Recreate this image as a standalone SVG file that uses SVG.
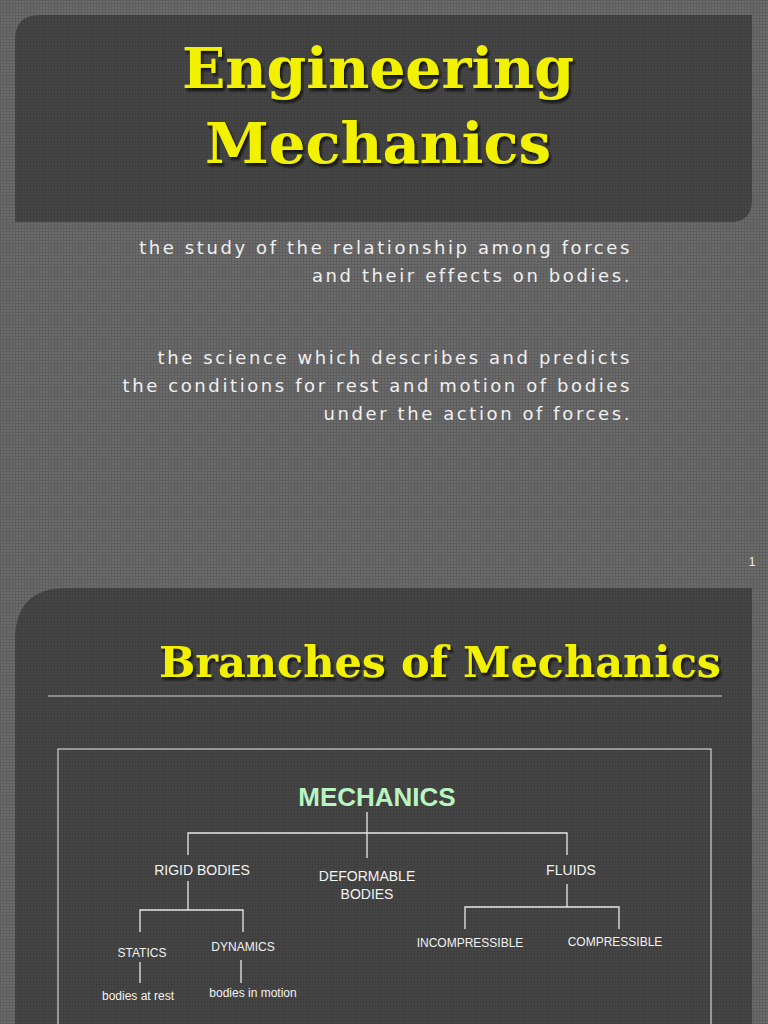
<svg xmlns="http://www.w3.org/2000/svg" width="768" height="1024" viewBox="0 0 768 1024">
<defs>
<pattern id="grid" width="3" height="3" patternUnits="userSpaceOnUse"><rect width="3" height="3" fill="#6c6c6c"/><rect width="1" height="3" fill="#5e5e5e"/><rect width="3" height="1" fill="#5e5e5e"/></pattern>
<pattern id="grid2" width="3" height="3" patternUnits="userSpaceOnUse"><rect width="3" height="3" fill="#464646"/><rect width="1" height="3" fill="#3f3f3f"/><rect width="3" height="1" fill="#3f3f3f"/></pattern>
<filter id="sh" x="-10%" y="-20%" width="120%" height="150%"><feDropShadow dx="2" dy="3" stdDeviation="1" flood-color="#111" flood-opacity="0.9"/></filter>
</defs>
<style>
.t{font-family:"DejaVu Serif",serif;font-weight:bold;fill:#f2f200;text-anchor:middle;filter:url(#sh)}
.b{font-family:"DejaVu Sans",sans-serif;font-size:18px;fill:#f0f0f0;text-anchor:end;letter-spacing:2.6px}
.n{font-family:"Liberation Sans",sans-serif;fill:#f2f2f2;text-anchor:middle}
.c{stroke:#e8e8e8;stroke-width:1.3;fill:none}
</style>
<rect width="768" height="1024" fill="url(#grid)"/>
<path d="M15 222 V40 Q15 15 40 15 H752 V200 Q752 222 730 222 Z" fill="url(#grid2)"/>
<text class="t" x="378" y="88" font-size="56" textLength="392" lengthAdjust="spacingAndGlyphs">Engineering</text>
<text class="t" x="378" y="163" font-size="56" textLength="346" lengthAdjust="spacingAndGlyphs">Mechanics</text>
<text class="b" x="632" y="254">the study of the relationship among forces</text>
<text class="b" x="632" y="282">and their effects on bodies.</text>
<text class="b" x="632" y="364">the science which describes and predicts</text>
<text class="b" x="632" y="392">the conditions for rest and motion of bodies</text>
<text class="b" x="632" y="420">under the action of forces.</text>
<text class="n" x="752" y="566" font-size="12">1</text>
<path d="M15 1024 V640 Q15 588 67 588 H752 V1024 Z" fill="url(#grid2)"/>
<text class="t" x="440" y="677" font-size="42" textLength="562" lengthAdjust="spacingAndGlyphs">Branches of Mechanics</text>
<line x1="48" y1="696" x2="722" y2="696" stroke="#cfcfcf" stroke-width="1"/>
<rect x="58" y="749" width="653" height="290" fill="none" stroke="#cfcfcf" stroke-width="1.2"/>
<g id="connectors" class="c">
<path d="M367 812 V858 M188 855 V833 H567 V855"/>
<path d="M188 881 V910 M140 932 V910 H243 V932"/>
<path d="M567 884 V907 M465 929 V907 H619 V929"/>
<path d="M140 962 V983 M241 960 V983"/>
</g>
<g id="mechanics"><text class="n" x="377" y="806" font-size="26" font-weight="bold" style="fill:#b8f5c0">MECHANICS</text></g>
<g id="rigid"><text class="n" x="202" y="875" font-size="14">RIGID BODIES</text></g>
<g id="deformable"><text class="n" x="367" y="881" font-size="14">DEFORMABLE</text><text class="n" x="367" y="899" font-size="14">BODIES</text></g>
<g id="fluids"><text class="n" x="571" y="875" font-size="14">FLUIDS</text></g>
<g id="statics"><text class="n" x="142" y="957" font-size="12">STATICS</text></g>
<g id="dynamics"><text class="n" x="243" y="951" font-size="12">DYNAMICS</text></g>
<g id="incomp"><text class="n" x="470" y="947" font-size="12">INCOMPRESSIBLE</text></g>
<g id="comp"><text class="n" x="615" y="946" font-size="12">COMPRESSIBLE</text></g>
<g id="rest"><text class="n" x="138" y="1000" font-size="12">bodies at rest</text></g>
<g id="motion"><text class="n" x="253" y="997" font-size="12">bodies in motion</text></g>
</svg>
